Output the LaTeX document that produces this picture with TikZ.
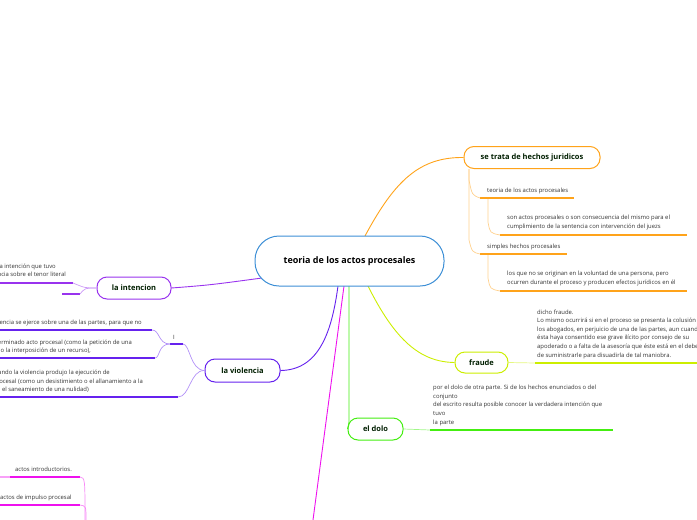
\documentclass[tikz,border=0pt]{standalone}
\usepackage{fontspec}
\setmainfont{Open Sans}
\begin{document}
\begin{tikzpicture}[x=1pt,y=-1pt,
  sm/.style={anchor=base west,inner sep=0pt,font=\fontsize{5.9}{8.6}\selectfont,text=black!80,align=left},
  topic/.style={draw,line width=1pt,rounded corners=10pt,fill=white,font=\bfseries\fontsize{7.5}{9}\selectfont,text=black!70!green!40!black,inner sep=0pt},
  ul/.style={line width=1.2pt},
  cn/.style={line width=0.9pt}]
\useasboundingbox (0,0) rectangle (697,520);
\clip (0,0) rectangle (697,520);
\definecolor{org}{HTML}{FFA31A}
\definecolor{yel}{HTML}{CCEE00}
\definecolor{grn}{HTML}{44EE11}
\definecolor{pur}{HTML}{9933EE}
\definecolor{vio}{HTML}{6622EE}
\definecolor{mag}{HTML}{EE11EE}
\definecolor{blu}{HTML}{3D8FD6}
\coordinate (cA) at (365,236);
\coordinate (cI) at (262,278);
\coordinate (cV) at (338,286);
\coordinate (cM) at (344,286);
\coordinate (cG) at (349,286);
\coordinate (cF) at (368,286);
\coordinate (mEnd) at (313,520);
\node[topic,draw=org,minimum width=136pt,minimum height=22pt] (st) at (532,157.5) {se trata de hechos juridicos};
\node[topic,draw=yel,minimum width=53pt,minimum height=21pt] (fr) at (481.5,362.5) {fraude};
\node[topic,draw=grn,minimum width=55pt,minimum height=22pt] (do) at (375.5,429) {el dolo};
\node[topic,draw=pur,minimum width=74pt,minimum height=22pt] (in) at (134,288) {la intencion};
\node[topic,draw=vio,minimum width=75pt,minimum height=23pt] (vi) at (242.5,370.5) {la violencia};
\draw[cn,org] (cA) .. controls (395,180) and (420,157) .. (st.west);
\draw[cn,yel] (cF) .. controls (395,340) and (420,362) .. (fr.west);
\draw[cn,grn] (cG) -- (349,418) .. controls (349,425) .. (do.west);
\draw[cn,pur] (in.east) .. controls (210,285) .. (cI);
\draw[cn,vio] (vi.east) .. controls (320,370) and (332,330) .. (cV);
\draw[cn,mag] (cM) -- (mEnd);
\node[draw=blu,line width=1pt,rounded corners=24pt,fill=white,minimum width=189pt,minimum height=50pt,font=\bfseries\fontsize{9}{11}\selectfont,inner sep=0pt] (c) at (349.5,261) {teoria de los actos procesales};
% se trata subtree
\node[sm] (t1) at (487,192) {teoria de los actos procesales};
\node[sm] (t2) at (507,228.5) {son actos procesales o son consecuencia del mismo para el\\cumplimiento de la sentencia con intervención del juezs};
\node[sm] (t3) at (487,248) {simples hechos procesales};
\node[sm] (t4) at (507,284.5) {los que no se originan en la voluntad de una persona, pero\\ocurren durante el proceso y producen efectos jurídicos en él};
\draw[ul,org] (480,198) -- (574,198);
\draw[ul,org] (500,235) -- (687,235);
\draw[ul,org] (480,254) -- (567,254);
\draw[ul,org] (500,291) -- (687,291);
\draw[org!50,line width=0.7pt] (469,169) -- (469,180) .. controls (472,195) .. (480,198);
\draw[org!50,line width=0.7pt] (469,169) -- (469,240) .. controls (472,252) .. (480,254);
\draw[org!50,line width=0.7pt] (488,199) -- (488,222) .. controls (490,233) .. (500,235);
\draw[org!50,line width=0.7pt] (488,255) -- (488,278) .. controls (490,289) .. (500,291);
% fraude
\node[sm] (f1) at (537,357) {dicho fraude.\\Lo mismo ocurrirá si en el proceso se presenta la colusión de\\los abogados, en perjuicio de una de las partes, aun cuando\\ésta haya consentido ese grave ilícito por consejo de su\\apoderado o a falta de la asesoría que éste está en el deber\\de suministrarle para disuadirla de tal maniobra.};
\draw[yel!50,line width=0.7pt] (fr.east) -- (535,363);
\draw[ul,yel] (535,363) -- (697,363);
% dolo
\node[sm] (d1) at (433,424) {por el dolo de otra parte. Si de los hechos enunciados o del\\conjunto\\del escrito resulta posible conocer la verdadera intención que\\tuvo\\la parte};
\draw[grn!50,line width=0.7pt] (do.east) -- (430,430);
\draw[ul,grn] (430,430) -- (613,430);
% intencion
\node[sm,anchor=base east] (i1) at (56,268) {la intención que tuvo};
\node[sm,anchor=base east] (i2) at (66,276.5) {la experiencia sobre el tenor literal};
\draw[ul,pur] (0,283) -- (73,283);
\draw[ul,pur] (62,294) -- (80,294);
\draw[pur!50,line width=0.7pt] (in.west) .. controls (85,288) .. (73,283);
\draw[pur!50,line width=0.7pt] (in.west) .. controls (85,288) .. (80,294);
% violencia
\node[sm,anchor=base east] (v1) at (142,324) {la violencia se ejerce sobre una de las partes, para que no};
\node[sm,anchor=base west] (vI) at (173,339) {I};
\node[sm,anchor=base east] (v2) at (132,344) {realice determinado acto procesal (como la petición de una};
\node[sm,anchor=base east] (v3) at (91,352.5) {prueba o la interposición de un recurso),};
\node[sm,anchor=base east] (v4) at (110,374) {y cuando la violencia produjo la ejecución de};
\node[sm,anchor=base east] (v5) at (143,383) {un acto procesal (como un desistimiento o el allanamiento a la};
\node[sm,anchor=base east] (v6) at (89,391.5) {demanda o el saneamiento de una nulidad)};
\draw[ul,vio] (0,330) -- (152,330);
\draw[ul,vio] (170,344) -- (183,344);
\draw[ul,vio] (0,358) -- (155,358);
\draw[ul,vio] (0,397) -- (178,397);
\draw[vio!50,line width=0.7pt] (vi.west) .. controls (190,370) and (190,344) .. (183,344);
\draw[vio!50,line width=0.7pt] (vi.west) .. controls (190,370) and (190,397) .. (178,397);
\draw[vio!50,line width=0.7pt] (170,344) .. controls (158,344) and (160,330) .. (152,330);
\draw[vio!50,line width=0.7pt] (170,344) .. controls (158,344) and (160,358) .. (155,358);
% bottom left magenta
\node[sm] (m1) at (15,471) {actos introductorios.};
\node[sm] (m2) at (0,499) {actos de impulso procesal};
\draw[ul,mag!40] (0,477) -- (10,477);
\draw[ul,mag] (10,477) -- (80,477);
\draw[ul,mag] (0,505) -- (80,505);
\draw[mag!50,line width=0.7pt] (80,477) .. controls (85,478) .. (85,520);
\draw[mag!50,line width=0.7pt] (80,505) .. controls (86,506) .. (86,520);
\end{tikzpicture}
\end{document}
